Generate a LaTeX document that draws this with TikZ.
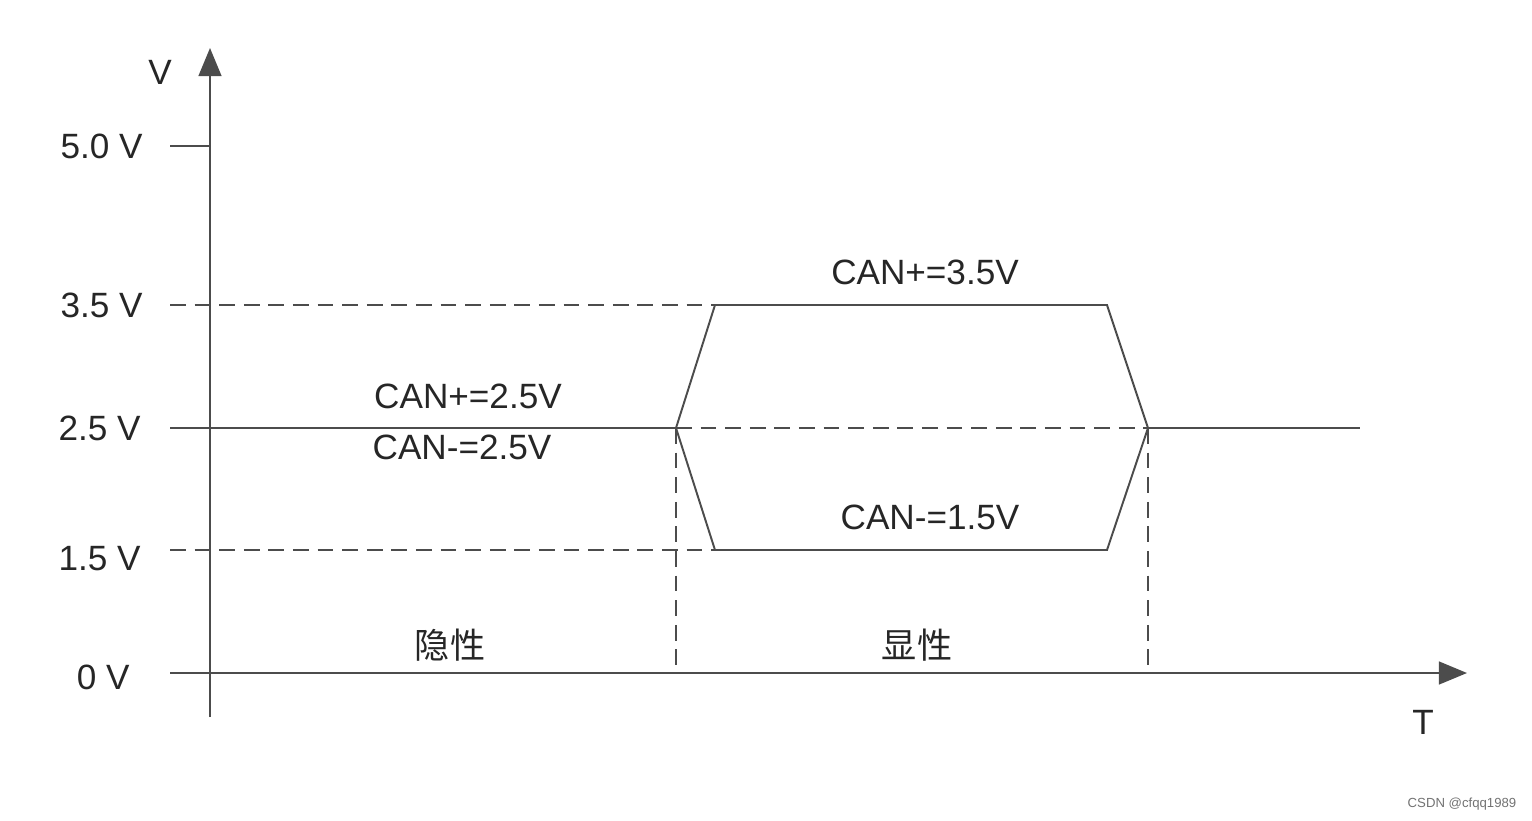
\documentclass[tikz,border=0pt]{standalone}
\usepackage{fontspec}
\setmainfont{Liberation Sans}
\newfontfamily\cjk{Noto Sans CJK SC}
\usetikzlibrary{arrows.meta}
\begin{document}
\begin{tikzpicture}[x=0.02cm,y=-0.02cm,
  ln/.style={draw=black!70,line width=1.1pt},
  dsh/.style={ln,dash pattern=on 9pt off 5pt},
  lbl/.style={text=black!85,font=\fontsize{20}{22}\selectfont,inner sep=0pt},
  ax/.style={ln,-{Triangle[length=16pt,width=13pt]}}]
\useasboundingbox[fill=white] (0,0) rectangle (1532,821);
\coordinate (yb) at (210,717); \coordinate (yt) at (210,48);
\coordinate (xb) at (170,673); \coordinate (xt) at (1467,673);
\draw[ax] (yb) -- (yt);
\draw[ax] (xb) -- (xt);
\coordinate (t5) at (170,146); \coordinate (t5e) at (210,146);
\draw[ln] (t5) -- (t5e);
\coordinate (a35) at (170,305); \coordinate (a25) at (170,428); \coordinate (a15) at (170,550);
\coordinate (l) at (676,428); \coordinate (r) at (1148,428);
\coordinate (hu) at (715,305); \coordinate (hu2) at (1107,305);
\coordinate (hd) at (715,550); \coordinate (hd2) at (1107,550);
\coordinate (e) at (1360,428);
\coordinate (lb) at (676,665); \coordinate (rb) at (1148,665);
\draw[dsh] (a35) -- (hu);
\draw[dsh] (a15) -- (hd);
\draw[ln] (a25) -- (l);
\draw[dsh] (l) -- (r);
\draw[ln] (r) -- (e);
\draw[ln] (l) -- (hu) -- (hu2) -- (r);
\draw[ln] (l) -- (hd) -- (hd2) -- (r);
\draw[dsh] (l) -- (lb);
\draw[dsh] (r) -- (rb);
\node[lbl] (nv) at (160,72) {V};
\node[lbl] (nt) at (1423,722) {T};
\node[lbl,anchor=east] (n5) at (143,146) {5.0 V};
\node[lbl,anchor=east] (n35) at (143,305) {3.5 V};
\node[lbl,anchor=east] (n25) at (141,428) {2.5 V};
\node[lbl,anchor=east] (n15) at (141,559) {1.5 V};
\node[lbl,anchor=east] (n0) at (130,677) {0 V};
\node[lbl] (c1) at (925,272) {CAN+=3.5V};
\node[lbl] (c2) at (468,396) {CAN+=2.5V};
\node[lbl] (c3) at (462,447) {CAN-=2.5V};
\node[lbl] (c4) at (930,517) {CAN-=1.5V};
\node[lbl,font=\cjk\fontsize{20}{22}\selectfont] (k1) at (450,645) {隐性};
\node[lbl,font=\cjk\fontsize{20}{22}\selectfont] (k2) at (917,645) {显性};
\node[text=black!55,font=\fontsize{7.5}{8}\selectfont,inner sep=0pt] (w) at (1462,804) {CSDN @cfqq1989};
\end{tikzpicture}
\end{document}
